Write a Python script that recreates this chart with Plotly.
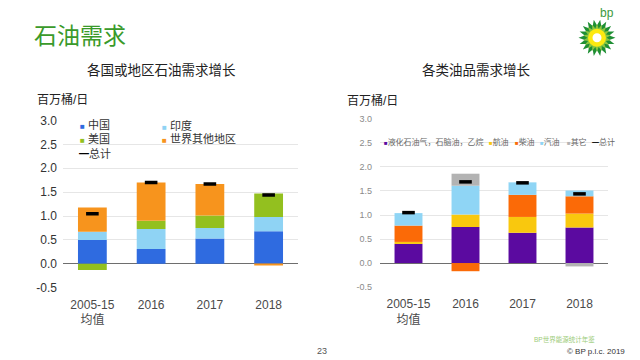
import numpy as np
import plotly.graph_objects as go

# ---------------- data ----------------
categories = ["2005-15<br>均值", "2016", "2017", "2018"]

# left: demand growth by region (million barrels/day)
china = [0.50, 0.31, 0.53, 0.68]
india = [0.17, 0.42, 0.22, 0.30]
usa = [-0.13, 0.17, 0.26, 0.49]
rest_of_world = [0.51, 0.80, 0.66, -0.02]
region_total = [1.05, 1.70, 1.67, 1.44]

# right: demand growth by product
lpg_naphtha_ethane = [0.40, 0.75, 0.63, 0.74]
jet_fuel = [0.04, 0.26, 0.33, 0.29]
diesel = [0.34, -0.17, 0.46, 0.36]
gasoline = [0.26, 0.60, 0.26, 0.12]
other = [0.00, 0.25, 0.00, -0.07]
product_total = [1.05, 1.69, 1.67, 1.44]

y_tick_vals = [-0.5, 0.0, 0.5, 1.0, 1.5, 2.0, 2.5, 3.0]
y_tick_text = ["-0.5", "0.0", "0.5", "1.0", "1.5", "2.0", "2.5", "3.0"]

# ---------------- style ----------------
W, H = 640, 360
FONT = "Liberation Sans, Noto Sans CJK SC, sans-serif"
C_CHINA, C_INDIA, C_US, C_ROW = "#2f6be0", "#8fd3f4", "#93c01f", "#f7941d"
C_LPG, C_JET, C_DIESEL, C_GAS, C_OTHER = "#5b0aa0", "#f9c80e", "#fb6a07", "#8fd5f5", "#b3b3b3"

# vertical calibration of the photographed page
SY, OY = 0.965, 6.1


def px(x):
    return x / W


def py(y):
    return 1 - ((y - OY) / SY) / H


fig = go.Figure()

left_series = [("中国", china, C_CHINA), ("印度", india, C_INDIA),
               ("美国", usa, C_US), ("世界其他地区", rest_of_world, C_ROW)]
for name, vals, col in left_series:
    fig.add_trace(go.Bar(x=categories, y=vals, name=name, marker_color=col,
                         marker_line_width=0, width=0.49, xaxis="x", yaxis="y"))
fig.add_trace(go.Scatter(x=categories, y=region_total, mode="markers", name="总计",
                         marker=dict(symbol="line-ew", size=9,
                                     line=dict(color="black", width=3.5)),
                         xaxis="x", yaxis="y"))

right_series = [("液化石油气，石脑油，乙烷", lpg_naphtha_ethane, C_LPG),
                ("航油", jet_fuel, C_JET), ("柴油", diesel, C_DIESEL),
                ("汽油", gasoline, C_GAS), ("其它", other, C_OTHER)]
for name, vals, col in right_series:
    fig.add_trace(go.Bar(x=categories, y=vals, name=name, marker_color=col,
                         marker_line_width=0, width=0.49, xaxis="x2", yaxis="y2"))
fig.add_trace(go.Scatter(x=categories, y=product_total, mode="markers", name="总计",
                         marker=dict(symbol="line-ew", size=9,
                                     line=dict(color="black", width=3.5)),
                         xaxis="x2", yaxis="y2"))

xcommon = dict(type="category", showgrid=False, showline=False, ticks="",
               ticklabelstandoff=8,
               tickfont=dict(family=FONT, size=12, color="#4a4a4a"))
ycommon = dict(range=[-0.5, 3.0], tickvals=y_tick_vals, ticktext=y_tick_text,
               showgrid=True, gridcolor="#e6e6e6", gridwidth=1,
               zeroline=True, zerolinecolor="#6e6e6e", zerolinewidth=1.3,
               showline=False, ticks="")

fig.update_layout(
    width=W, height=H,
    margin=dict(l=0, r=0, t=0, b=0),
    paper_bgcolor="white", plot_bgcolor="white",
    barmode="relative",
    showlegend=False,
    hovermode=False,
    font=dict(family=FONT),
    xaxis=dict(domain=[px(63), px(298)], anchor="y", **xcommon),
    yaxis=dict(domain=[py(288), py(120)], anchor="x", ticklabelstandoff=5,
               tickfont=dict(family=FONT, size=12, color="#333333"), **ycommon),
    xaxis2=dict(domain=[px(380), px(608)], anchor="y2", **xcommon),
    yaxis2=dict(domain=[py(287.3), py(118.5)], anchor="x2", ticklabelstandoff=7,
                tickfont=dict(family=FONT, size=9, color="#8a8a8a"), **ycommon),
)

ann = []


def text(x, y, s, size, color="#333333", xanchor="left"):
    ann.append(dict(x=px(x), y=py(y), xref="paper", yref="paper", text=s,
                    showarrow=False, xanchor=xanchor, yanchor="middle",
                    font=dict(family=FONT, size=size, color=color)))


# titles
text(32, 35, "石油需求", 23, "#3a9a2a")
text(161, 70, "各国或地区石油需求增长", 13.5, "#222222", "center")
text(476, 70, "各类油品需求增长", 13.5, "#222222", "center")
text(35, 99, "百万桶/日", 12, "#222222")
text(345, 100, "百万桶/日", 12, "#222222")


def sq(col, size=8):
    return f"<span style='color:{col};font-size:{size}px'>■</span>"


# left legend (two columns)
left_leg = [(78, 125, "中国", C_CHINA), (160, 125, "印度", C_INDIA),
            (78, 139, "美国", C_US), (160, 139, "世界其他地区", C_ROW)]
for x, y, name, col in left_leg:
    text(x, y, sq(col) + " " + name, 11, "#333333")
text(77, 153, "<span style='color:black;font-size:10px'><b>━</b></span>总计", 11, "#333333")

# right legend (one row, one entry each)
right_leg_x = [382, 487, 513, 538, 565, 590]
for x, (name, _, col) in zip(right_leg_x, right_series):
    text(x, 142, sq(col, 6) + name, 8, "#666666")
text(right_leg_x[-1], 142, "<span style='color:black;font-size:7px'><b>━</b></span>总计",
     8, "#666666")

# footer
text(322, 351, "23", 9, "#555555", "center")
text(564, 340, "BP世界能源统计年鉴", 6.5, "#9ccc7a", "center")
text(596, 352, "© BP p.l.c. 2019", 8, "#333333", "center")
text(607, 12, "bp", 12, "#3c9a3c", "center")
fig.update_layout(annotations=ann)

# bp helios logo (decoration)
cx, cy = 597, 37


def star_path(r_out, r_in, n, rot=0.0):
    ang = np.linspace(0, 2 * np.pi, 2 * n, endpoint=False) + rot
    rad = np.where(np.arange(2 * n) % 2 == 0, r_out, r_in)
    xs = cx + rad * np.cos(ang)
    ys = cy + rad * np.sin(ang)
    pts = [f"{px(a):.5f},{py(b):.5f}" for a, b in zip(xs, ys)]
    return "M" + " L".join(pts) + " Z"


def circle(r, col):
    return dict(type="circle", xref="paper", yref="paper", x0=px(cx - r), x1=px(cx + r),
                y0=py(cy + r), y1=py(cy - r), fillcolor=col, line_width=0)


shapes = [
    dict(type="path", path=star_path(18.5, 12.5, 18), xref="paper", yref="paper",
         fillcolor="#1f8f34", line_width=0),
    dict(type="path", path=star_path(14, 9.5, 18, np.pi / 18), xref="paper", yref="paper",
         fillcolor="#8cc63f", line_width=0),
    circle(9, "#fde910"),
    circle(4.5, "#ffffff"),
]
fig.update_layout(shapes=shapes)

fig.write_html("out.html", config={"displayModeBar": False},
               post_script="document.body.style.margin='0px';")
